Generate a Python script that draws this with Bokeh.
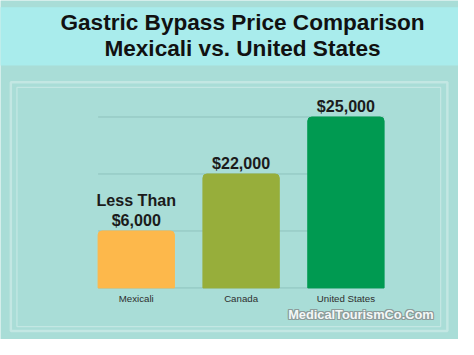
from bokeh.plotting import figure
from bokeh.models import Range1d, FixedTicker, BoxAnnotation, Label, ColumnDataSource
from bokeh.embed import file_html
from bokeh.resources import INLINE
from bokeh.core.properties import value

# ---- data ----
categories = ["Mexicali", "Canada", "United States"]
prices = [6000, 22000, 25000]
label_prefix = ["Less Than", "", ""]
bar_levels = [1, 2, 3]          # drawn bar heights in gridline steps (as shown)
grid_levels = [0, 1, 2, 3]
title_lines = ["Gastric Bypass Price Comparison", "Mexicali vs. United States"]
watermark = "MedicalTourismCo.Com"
bar_colors = ["#fdb84b", "#97ae3b", "#009a51"]

# ---- styling / layout ----
W, H = 458, 339
RW, RH = 474, 355               # design size; the figure shows it slightly scaled
SX, SY = W / RW, H / RH
BG = "#a9ddd7"
BAND = "#a9ecec"
GRID = "#8fc2bd"
FONT = "Liberation Sans"
bw = 0.728
positions = list(range(len(categories)))

# design geometry: first category centre, px per category, baseline, px per grid step
CX0, STEP, CY0, UNIT = 140.5, 108.5, 301.0, 59.67


def dx(rx):
    return (rx - CX0) / STEP


def dy(ry):
    return (CY0 - ry) / UNIT


def fs(px):
    return f"{px * SX:.1f}px"


p = figure(width=W, height=H, output_backend="svg", toolbar_location=None, title=None,
           x_range=Range1d(dx(0), dx(RW)), y_range=Range1d(dy(RH), dy(0)),
           min_border=0, min_border_left=0, min_border_right=0,
           min_border_top=0, min_border_bottom=0)
p.background_fill_color = BG
p.border_fill_color = BG
p.outline_line_color = None

p.yaxis.visible = False
p.xgrid.visible = False
p.ygrid.visible = False

ax = p.xaxis[0]
ax.fixed_location = 0
ax.ticker = FixedTicker(ticks=positions)
ax.major_label_overrides = {i: c for i, c in zip(positions, categories)}
ax.axis_line_color = None
ax.major_tick_line_color = None
ax.minor_tick_line_color = None
ax.major_tick_out = 0
ax.major_tick_in = 0
ax.major_label_standoff = 5
ax.major_label_text_font = FONT
ax.major_label_text_font_size = fs(10)
ax.major_label_text_color = "#2e2e2e"

# decorations: title band and white double frame
p.add_layout(BoxAnnotation(left=dx(-20), right=dx(500), top=dy(7), bottom=dy(68),
                           fill_color=BAND, fill_alpha=1, line_color=None, level="underlay"))
p.add_layout(BoxAnnotation(left=dx(10.7), right=dx(462.5), top=dy(85.5), bottom=dy(346),
                           fill_alpha=0, line_color="white", line_width=2.5, level="underlay"))
p.add_layout(BoxAnnotation(left=dx(17), right=dx(455.5), top=dy(91), bottom=dy(341.5),
                           fill_alpha=0, line_color="white", line_width=1.3, level="underlay"))

# horizontal gridlines spanning the bars
p.segment(x0=[positions[0] - bw / 2] * len(grid_levels),
          x1=[positions[-1] + bw / 2] * len(grid_levels),
          y0=grid_levels, y1=grid_levels, line_color=GRID, line_width=1)

src = ColumnDataSource(dict(
    x=positions, top=bar_levels, color=bar_colors,
    price=[f"${v:,}" for v in prices], prefix=label_prefix))

p.vbar(x="x", top="top", width=bw, color="color", source=src, border_radius=(4, 4, 0, 0))

p.text(x="x", y="top", text="price", source=src, text_align="center", text_baseline="middle",
       y_offset=-11 * SY, text_font=value(FONT), text_font_style="bold", text_font_size=fs(16.7),
       text_color="#1b1b1b")
p.text(x="x", y="top", text="prefix", source=src, text_align="center", text_baseline="middle",
       y_offset=-32.5 * SY, text_font=value(FONT), text_font_style="bold", text_font_size=fs(16.7),
       text_color="#1b1b1b")

for line, ry in zip(title_lines, [23, 50]):
    p.add_layout(Label(x=dx(250.5), y=dy(ry), text=line, text_align="center",
                       text_baseline="middle", text_font=FONT, text_font_style="bold",
                       text_font_size=fs(23.4), text_color="#111111"))

wx, wy = dx(373), dy(329)
for ox, oy in [(-1, 0), (1, 0), (0, -1), (0, 1), (-1, -1), (1, 1), (-1, 1), (1, -1)]:
    p.add_layout(Label(x=wx, y=wy, x_offset=ox, y_offset=oy, text=watermark, text_align="center",
                       text_baseline="middle", text_font=FONT, text_font_style="bold",
                       text_font_size=fs(13.2), text_color="#8c9c9a"))
p.add_layout(Label(x=wx, y=wy, text=watermark, text_align="center", text_baseline="middle",
                   text_font=FONT, text_font_style="bold", text_font_size=fs(13.2),
                   text_color="#f4f8f8"))

open("out.html", "w").write(file_html(p, INLINE))
